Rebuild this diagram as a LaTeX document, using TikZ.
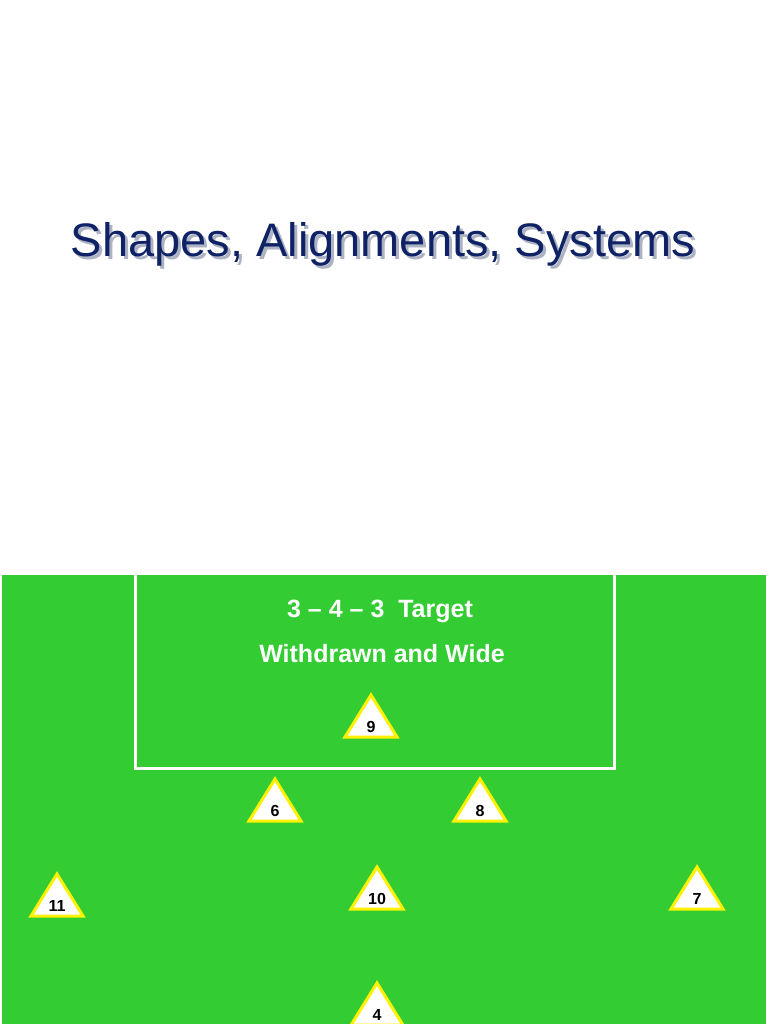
\documentclass[tikz,border=0pt]{standalone}
\usepackage{fontspec}
\setmainfont{Liberation Sans}
\definecolor{pitch}{HTML}{33CC33}
\definecolor{titleblue}{HTML}{0F2266}
\definecolor{shadowgray}{HTML}{AEB3C4}
\begin{document}
\begin{tikzpicture}[x=1pt,y=-1pt,
		player/.style={draw=yellow,fill=white,line width=3pt},
		num/.style={font=\fontsize{16}{16}\selectfont\bfseries,anchor=base,inner sep=0pt},
		caption/.style={text=white,font=\fontsize{25}{25}\selectfont\bfseries,anchor=base,inner sep=0pt},
		headline/.style={font=\fontsize{47}{47}\selectfont,anchor=base,inner sep=0pt}]
		\useasboundingbox[fill=white] (0,0) rectangle (768,1024);
		% Title
		\node[headline,shadowgray] (shadow) at (386,259) {Shapes, Alignments, Systems};
		\node[headline,titleblue] (title) at (383,256) {Shapes, Alignments, Systems};
		% Field
		\fill[pitch] (2,575) rectangle (766,1024);
		\draw[white,line width=3pt] (135,575) -- (135,768) -- (614,768) -- (614,575);
		\node[caption] (system) at (380,617) {3 -- 4 -- 3\ \ Target};
		\node[caption] (role) at (382,662) {Withdrawn and Wide};
		% Players
		\foreach \n/\x/\y in {9/371/695,6/275/779,8/480/779,11/57/874,10/377/867,7/697/867,4/377/983}{
			\draw[player] ({\x-26},{\y+42}) -- (\x,\y) -- ({\x+26},{\y+42}) -- cycle;
			\node[num] (p\n) at (\x,{\y+37}) {\n};
		}
	\end{tikzpicture}
\end{document}
